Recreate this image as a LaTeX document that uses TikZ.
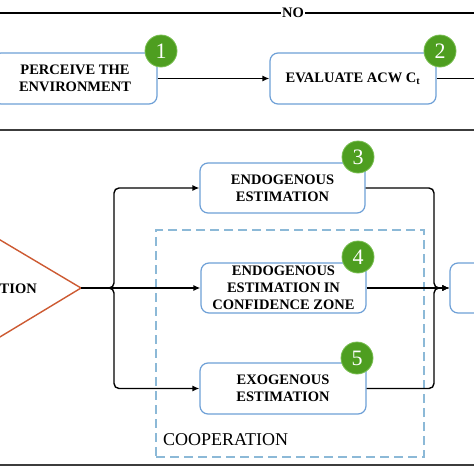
\documentclass[tikz,border=0pt]{standalone}
\usepackage{fontspec}
\setmainfont{Liberation Serif}
\usetikzlibrary{arrows.meta}
\definecolor{boxblue}{RGB}{110,160,215}
\definecolor{dashblue}{RGB}{140,185,215}
\definecolor{badgegreen}{RGB}{78,158,32}
\definecolor{badgeedge}{RGB}{120,190,80}
\definecolor{triorange}{RGB}{205,90,50}
\definecolor{sepgray}{RGB}{60,60,60}
\tikzset{
  box/.style={draw=boxblue, line width=1.2pt, rounded corners=8pt, fill=white,
    align=center, inner sep=0pt, font=\fontsize{14.5}{17}\selectfont\bfseries},
  badge/.style={circle, fill=badgegreen, draw=badgeedge, line width=0.8pt,
    minimum size=32pt, inner sep=0pt, text=white, font=\fontsize{22}{22}\selectfont},
  arr/.style={line width=1.4pt, -{Latex[length=7pt,width=6pt]}},
  conn/.style={line width=1.4pt},
  sepline/.style={draw=sepgray, line width=1.8pt},
  coop/.style={draw=dashblue, line width=1.2pt, dash pattern=on 9pt off 5pt},
  tri/.style={draw=triorange, line width=1.4pt}
}
\begin{document}
\begin{tikzpicture}[x=1pt,y=-1pt]
\useasboundingbox (0,0) rectangle (474,474);
\clip (0,0) rectangle (474,474);
\fill[white] (0,0) rectangle (474,474);

% top feedback line
\coordinate (tl) at (-5,13);
\coordinate (tr) at (480,13);
\draw[conn] (tl) -- (tr);
\node[fill=white, inner sep=1.5pt, font=\fontsize{14.5}{17}\selectfont\bfseries] (no) at (293,13) {NO};

% separators
\coordinate (s1a) at (-5,130); \coordinate (s1b) at (480,130);
\coordinate (s2a) at (-5,465); \coordinate (s2b) at (480,465);
\draw[sepline] (s1a) -- (s1b);
\draw[sepline] (s2a) -- (s2b);

% cooperation dashed zone
\node[coop, minimum width=268pt, minimum height=227pt, inner sep=0pt] (coopzone) at (290,343.5) {};
\node[anchor=west, font=\fontsize{18}{18}\selectfont, inner sep=0pt] (cooplbl) at (163,440) {COOPERATION};

% upper row
\node[box, minimum width=164pt, minimum height=51pt] (b1) at (75,78.5) {PERCEIVE THE\\ENVIRONMENT};
\node[box, minimum width=166pt, minimum height=51pt] (b2) at (353,78.5) {EVALUATE ACW C\textsubscript{t}};
\coordinate (r2) at (480,78.5);
\draw[arr] (b1.east) -- (b2.west);
\draw[conn] (b2.east) -- (r2);

% triangle
\coordinate (apex) at (81,288);
\coordinate (tu) at (-20,228);
\coordinate (tb) at (-20,349);
\draw[tri] (tu) -- (apex) -- (tb);
\node[anchor=east, inner sep=0pt, font=\fontsize{14.5}{17}\selectfont\bfseries] (dec) at (37,289) {TION};

% estimation boxes
\node[box, minimum width=165pt, minimum height=50pt] (b3) at (282.5,188) {ENDOGENOUS\\ESTIMATION};
\node[box, minimum width=165pt, minimum height=50pt] (b4) at (283.5,288) {ENDOGENOUS\\ESTIMATION IN\\CONFIDENCE ZONE};
\node[box, minimum width=166pt, minimum height=51pt] (b5) at (283,388.5) {EXOGENOUS\\ESTIMATION};
\node[box, minimum width=70pt, minimum height=50pt] (b6) at (485,288) {};

% connectors left
\coordinate (j1) at (114,288);
\draw[arr, rounded corners=5pt] (apex) -- (j1) |- (b3.west);
\draw[arr] (apex) -- (b4.west);
\draw[arr, rounded corners=5pt] (apex) -- (j1) |- (b5.west);

% connectors right
\coordinate (j2) at (434,288);
\draw[arr, rounded corners=5pt] (b3.east) -| (j2) -- (b6.west);
\draw[arr] (b4.east) -- (b6.west);
\draw[arr, rounded corners=5pt] (b5.east) -| (j2) -- (b6.west);

% badges
\node[badge] (c1) at (161,51) {1};
\node[badge] (c2) at (440,51) {2};
\node[badge] (c3) at (358,157) {3};
\node[badge] (c4) at (358,257) {4};
\node[badge] (c5) at (357,358) {5};
\end{tikzpicture}
\end{document}
